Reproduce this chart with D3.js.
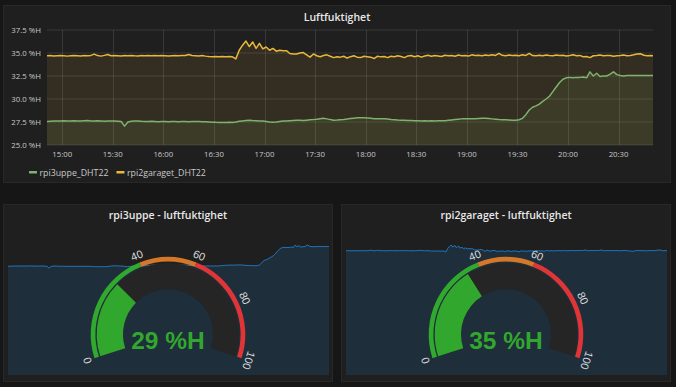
<!DOCTYPE html>
<html>
<head>
<meta charset="utf-8">
<script src="https://cdn.jsdelivr.net/npm/d3@7"></script>
<style>
  body { margin: 0; background: #161616; }
  svg { display: block; font-family: "Open Sans", sans-serif; }
</style>
</head>
<body>
<svg width="676" height="387"></svg>
<script>
// one sample every 2 minutes, starting 14:51
const startTime = new Date(2017, 0, 1, 14, 51);
const stepMin = 2;

const rpi3uppe = [
  27.55, 27.58, 27.60, 27.62, 27.60, 27.64, 27.62, 27.60, 27.64, 27.62,
  27.60, 27.64, 27.66, 27.62, 27.60, 27.64, 27.62, 27.58, 27.60, 27.62,
  27.60, 27.58, 27.55, 27.05, 27.50, 27.58, 27.60, 27.62, 27.58, 27.56,
  27.55, 27.58, 27.56, 27.54, 27.56, 27.55, 27.52, 27.55, 27.56, 27.54,
  27.55, 27.56, 27.54, 27.55, 27.56, 27.55, 27.54, 27.52, 27.50, 27.48,
  27.46, 27.45, 27.45, 27.44, 27.46, 27.45, 27.50, 27.58, 27.62, 27.66,
  27.70, 27.66, 27.64, 27.62, 27.60, 27.56, 27.50, 27.46, 27.50, 27.56,
  27.60, 27.62, 27.64, 27.66, 27.68, 27.70, 27.66, 27.70, 27.74, 27.76,
  27.80, 27.86, 27.90, 27.84, 27.76, 27.70, 27.72, 27.75, 27.78, 27.82,
  27.88, 27.92, 27.96, 27.97, 27.96, 27.94, 27.90, 27.86, 27.85, 27.86,
  27.85, 27.82, 27.78, 27.75, 27.72, 27.70, 27.68, 27.66, 27.65, 27.64,
  27.63, 27.62, 27.64, 27.62, 27.63, 27.62, 27.64, 27.63, 27.64, 27.68,
  27.72, 27.76, 27.80, 27.84, 27.85, 27.86, 27.84, 27.86, 27.88, 27.90,
  27.90, 27.88, 27.84, 27.80, 27.76, 27.75, 27.74, 27.72, 27.70, 27.70,
  27.75, 27.90, 28.30, 28.80, 29.10, 29.25, 29.45, 29.75, 30.00, 30.30,
  30.80, 31.30, 31.80, 32.15, 32.30, 32.35, 32.30, 32.35, 32.35, 32.40,
  32.30, 32.95, 32.50, 32.80, 32.45, 32.50, 32.50, 32.70, 32.95, 32.65,
  32.55, 32.50, 32.55, 32.55, 32.55, 32.55, 32.55, 32.55, 32.55, 32.55,
  32.55
];

const rpi2garaget = [
  34.70, 34.72, 34.68, 34.70, 34.72, 34.70, 34.66, 34.70, 34.72, 34.70,
  34.68, 34.72, 34.70, 34.74, 34.88, 34.72, 34.66, 34.74, 34.84, 34.70,
  34.72, 34.70, 34.68, 34.72, 34.70, 34.74, 34.70, 34.68, 34.72, 34.70,
  34.72, 34.70, 34.74, 34.70, 34.72, 34.70, 34.68, 34.70, 34.72, 34.70,
  34.74, 34.72, 34.84, 34.72, 34.70, 34.68, 34.72, 34.66, 34.62, 34.60,
  34.62, 34.58, 34.62, 34.60, 34.62, 34.58, 34.36, 35.30, 35.85, 36.30,
  35.70, 36.20, 35.50, 36.05, 35.45, 35.65, 35.30, 35.50, 35.20, 35.30,
  35.25, 35.25, 34.95, 34.90, 34.90, 35.00, 35.05, 34.80, 34.55, 34.90,
  34.70, 34.60, 34.72, 34.80, 34.65, 34.50, 34.60, 34.55, 34.65, 34.45,
  34.60, 34.70, 34.55, 34.50, 34.65, 34.60, 34.55, 34.40, 34.65, 34.58,
  34.62, 34.50, 34.65, 34.60, 34.70, 34.62, 34.50, 34.68, 34.72, 34.60,
  34.70, 34.55, 34.68, 34.75, 34.65, 34.72, 34.68, 34.62, 34.75, 34.70,
  34.72, 34.65, 34.78, 34.70, 34.72, 34.68, 34.80, 34.72, 34.75, 34.70,
  34.78, 34.72, 34.80, 34.74, 34.95, 34.75, 34.70, 34.78, 34.72, 34.76,
  34.70, 34.80, 34.74, 34.95, 34.72, 34.70, 34.76, 34.70, 34.78, 34.72,
  34.70, 34.78, 34.72, 34.75, 34.68, 34.72, 34.80, 34.70, 34.74, 34.60,
  34.62, 34.50, 34.70, 34.72, 34.78, 34.70, 34.74, 34.72, 34.65, 34.70,
  34.72, 34.78, 34.70, 34.74, 34.80, 34.88, 34.92, 34.76, 34.70, 34.74,
  34.70
];

const seriesNames = ["rpi3uppe_DHT22", "rpi2garaget_DHT22"];
const seriesColors = ["#7eb26d", "#eab839"];
const yTicks = [25, 27.5, 30, 32.5, 35, 37.5];

const gaugeTitles = ["rpi3uppe - luftfuktighet", "rpi2garaget - luftfuktighet"];
const gaugeValues = [29, 35];
const gaugeLabels = [0, 40, 60, 80, 100];
const thresholds = [40, 60];
const thresholdColors = ["rgba(50,172,45,0.97)", "rgba(237,129,40,0.89)", "rgba(245,54,54,0.9)"];

const svg = d3.select("svg");
const times = rpi3uppe.map((d, i) => d3.timeMinute.offset(startTime, i * stepMin));

window.onload = function() {
  render();
};

function render() {
  drawPanel(3, 5, 668, 178);
  drawPanel(3, 204, 330, 178);
  drawPanel(341, 204, 330, 178);
  drawGraph();
  drawSingleStat(3, 204, rpi3uppe, gaugeTitles[0], gaugeValues[0]);
  drawSingleStat(341, 204, rpi2garaget, gaugeTitles[1], gaugeValues[1]);
}

function drawPanel(x, y, w, h) {
  svg.append("rect")
    .attr("x", x + 0.5).attr("y", y + 0.5)
    .attr("width", w - 1).attr("height", h - 1)
    .attr("fill", "#1f1f1f")
    .attr("stroke", "#282828");
}

function drawGraph() {
  const left = 47, right = 653, top = 30, bottom = 145;
  const x = d3.scaleTime().domain([startTime, times[times.length - 1]]).range([left, 654]);
  const y = d3.scaleLinear().domain([25, 37.5]).range([bottom, top]);
  const g = svg.append("g");

  g.append("text")
    .attr("x", 337).attr("y", 20.5)
    .attr("text-anchor", "middle")
    .attr("fill", "#e8e8e8")
    .attr("font-size", 10.5)
    .attr("font-weight", 600)
    .text("Luftfuktighet");

  const xTicks = x.ticks(d3.timeMinute.every(30));

  // grid
  g.selectAll(".hgrid").data(yTicks).join("line")
    .attr("x1", left).attr("x2", right)
    .attr("y1", d => y(d)).attr("y2", d => y(d))
    .attr("stroke", "rgba(255,255,255,0.11)");
  g.selectAll(".vgrid").data(xTicks).join("line")
    .attr("x1", d => Math.round(x(d)) + 0.5).attr("x2", d => Math.round(x(d)) + 0.5)
    .attr("y1", top).attr("y2", bottom)
    .attr("stroke", "rgba(255,255,255,0.11)");

  g.selectAll(".ylab").data(yTicks).join("text")
    .attr("x", 41).attr("y", d => y(d) + 2.8)
    .attr("text-anchor", "end")
    .attr("fill", "#c8c8c8")
    .attr("font-size", 7.8)
    .text(d => d3.format(".1f")(d) + " %H");

  g.selectAll(".xlab").data(xTicks).join("text")
    .attr("x", d => x(d)).attr("y", 157)
    .attr("text-anchor", "middle")
    .attr("fill", "#c8c8c8")
    .attr("font-size", 7.8)
    .text(d => d3.timeFormat("%H:%M")(d));

  svg.append("clipPath").attr("id", "plotclip")
    .append("rect").attr("x", left).attr("y", top - 5)
    .attr("width", right - left).attr("height", bottom - top + 5);

  const plot = g.append("g").attr("clip-path", "url(#plotclip)");
  const series = [rpi3uppe, rpi2garaget];

  const area = d3.area()
    .x((d, i) => x(times[i]))
    .y0(bottom)
    .y1(d => y(d));
  const line = d3.line()
    .x((d, i) => x(times[i]))
    .y(d => y(d));

  series.forEach((s, k) => {
    plot.append("path")
      .attr("d", area(s))
      .attr("fill", seriesColors[k])
      .attr("fill-opacity", 0.1);
  });
  series.forEach((s, k) => {
    plot.append("path")
      .attr("d", line(s))
      .attr("fill", "none")
      .attr("stroke", seriesColors[k])
      .attr("stroke-width", 1.5)
      .attr("stroke-linejoin", "round");
  });

  // legend
  let lx = 29;
  seriesNames.forEach((name, k) => {
    g.append("rect")
      .attr("x", lx).attr("y", 171)
      .attr("width", 8).attr("height", 2.5)
      .attr("fill", seriesColors[k]);
    const t = g.append("text")
      .attr("x", lx + 10.5).attr("y", 175.5)
      .attr("fill", "#c8c8c8")
      .attr("font-size", 8.8)
      .text(name);
    lx += 10.5 + t.node().getComputedTextLength() + 8;
  });
}

function drawSingleStat(px, py, data, title, value) {
  const g = svg.append("g");
  const w = 330;

  g.append("text")
    .attr("x", px + w / 2).attr("y", py + 14.5)
    .attr("text-anchor", "middle")
    .attr("fill", "#e8e8e8")
    .attr("font-size", 10.5)
    .attr("font-weight", 600)
    .text(title);

  // sparkline
  const sx = d3.scaleTime().domain(d3.extent(times)).range([px + 5, px + 326]);
  const sy = d3.scaleLinear().domain([0, d3.max(data)]).range([py + 171, py + 41]);
  g.append("path")
    .attr("d", d3.area().x((d, i) => sx(times[i])).y0(py + 171).y1(d => sy(d))(data))
    .attr("fill", "rgba(31,118,189,0.18)");
  g.append("path")
    .attr("d", d3.line().x((d, i) => sx(times[i])).y(d => sy(d))(data))
    .attr("fill", "none")
    .attr("stroke", "rgb(31,120,193)")
    .attr("stroke-width", 1);

  // gauge
  const cx = px + w / 2, cy = py + 130.3;
  const a = d3.scaleLinear().domain([0, 100]).range([-108 * Math.PI / 180, 108 * Math.PI / 180]);
  const gg = g.append("g").attr("transform", `translate(${cx},${cy})`);

  gg.append("path")
    .attr("d", d3.arc()({ innerRadius: 45, outerRadius: 71.3, startAngle: a(0), endAngle: a(100) }))
    .attr("fill", "#252525");
  gg.append("path")
    .attr("d", d3.arc()({ innerRadius: 45, outerRadius: 71.3, startAngle: a(0), endAngle: a(value) }))
    .attr("fill", thresholdColors[d3.bisect(thresholds, value)]);

  const bounds = [0].concat(thresholds, [100]);
  for (let k = 0; k < bounds.length - 1; k++) {
    gg.append("path")
      .attr("d", d3.arc()({ innerRadius: 72.6, outerRadius: 77.3, startAngle: a(bounds[k]), endAngle: a(bounds[k + 1]) }))
      .attr("fill", thresholdColors[k]);
  }

  gg.selectAll(".glab").data(gaugeLabels).join("text")
    .attr("transform", d => {
      const ang = a(d);
      return `translate(${85 * Math.sin(ang)},${-85 * Math.cos(ang)}) rotate(${ang * 180 / Math.PI})`;
    })
    .attr("text-anchor", "middle")
    .attr("dy", "0.36em")
    .attr("fill", "#d8d9da")
    .attr("font-family", "'Liberation Sans', Arial, sans-serif")
    .attr("font-size", 11)
    .text(d => d);

  gg.append("text")
    .attr("x", 0).attr("y", 349 - cy)
    .attr("text-anchor", "middle")
    .attr("fill", thresholdColors[d3.bisect(thresholds, value)])
    .attr("font-family", "'Liberation Sans', Arial, sans-serif")
    .attr("font-weight", "bold")
    .attr("font-size", 24.5)
    .text(value + " %H");
}
</script>
</body>
</html>
